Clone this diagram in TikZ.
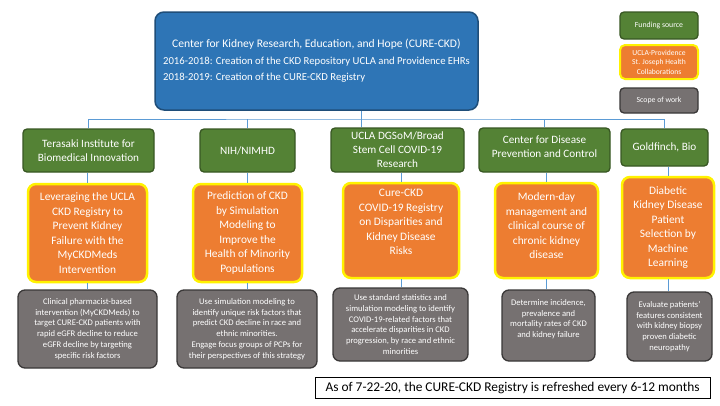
\documentclass[tikz,border=0pt]{standalone}
\usepackage{fontspec}
\setmainfont{Carlito}
\definecolor{hopeblue}{HTML}{2E75B6}
\definecolor{hopeline}{HTML}{1F4E79}
\definecolor{fundgreen}{HTML}{548235}
\definecolor{fundline}{HTML}{385723}
\definecolor{collaborange}{HTML}{ED7D31}
\definecolor{workgray}{HTML}{767171}
\definecolor{workline}{HTML}{3A3838}
\definecolor{linkblue}{HTML}{5B9BD5}

\begin{document}
\begin{tikzpicture}[x=1pt,y=1pt]
		\tikzstyle{every node}+=[inner sep=0pt, text=white, align=center]
		\tikzstyle{hope}=[draw=hopeline, fill=hopeblue, line width=1.5pt, rounded corners=9pt]
		\tikzstyle{fund}=[draw=fundline, fill=fundgreen, line width=1.3pt, rounded corners=4pt, font=\fontsize{11.2}{14}\selectfont]
		\tikzstyle{collab}=[draw=yellow, fill=collaborange, line width=2.5pt, rounded corners=8pt, font=\fontsize{11.4}{14.5}\selectfont]
		\tikzstyle{work}=[draw=workline, fill=workgray, line width=1.3pt, rounded corners=7pt, font=\fontsize{8.6}{10.8}\selectfont]
		\tikzstyle{link}=[draw=linkblue, line width=0.9pt]
		\useasboundingbox (0,0) rectangle (720,-405);
		\fill [white] (0,0) rectangle (720,-405);
		% top box
		\node [hope, minimum width=323pt, minimum height=98pt, align=left, font=\fontsize{10.7}{16.5}\selectfont] (cure) at (316.5,-61) {\hspace*{9pt}{\fontsize{11.6}{16.5}\selectfont Center for Kidney Research, Education, and Hope (CURE-CKD)}\\2016-2018: Creation of the CKD Repository UCLA and Providence EHRs\\2018-2019: Creation of the CURE-CKD Registry};
		% legend
		\node [fund, minimum width=78pt, minimum height=27pt, font=\fontsize{7.8}{9.5}\selectfont] (keyfund) at (659,-25.5) {Funding source};
		\node [collab, minimum width=78pt, minimum height=34pt, line width=2pt, rounded corners=5pt, font=\fontsize{7.6}{9.5}\selectfont] (keycollab) at (659,-62) {UCLA-Providence\\St. Joseph Health\\Collaborations};
		\node [work, minimum width=78pt, minimum height=25pt, rounded corners=4pt, font=\fontsize{7.8}{9.5}\selectfont] (keywork) at (659,-100.5) {Scope of work};
		% funding
		\node [fund, minimum width=131pt, minimum height=43pt] (f1) at (88.5,-150.5) {Terasaki Institute for\\Biomedical Innovation};
		\node [fund, minimum width=95pt, minimum height=43pt] (f2) at (247.5,-150.5) {NIH/NIMHD};
		\node [fund, minimum width=133pt, minimum height=44pt] (f3) at (397.5,-150) {UCLA DGSoM/Broad\\Stem Cell COVID-19\\Research};
		\node [fund, minimum width=131pt, minimum height=44pt] (f4) at (544.5,-150) {Center for Disease\\Prevention and Control\\[-7pt]\mbox{}};
		\node [fund, minimum width=87pt, minimum height=37pt] (f5) at (664.5,-147.5) {Goldfinch, Bio};
		% collaborations
		\node [collab, minimum width=119pt, minimum height=98pt] (o1) at (87.5,-233) {Leveraging the UCLA\\CKD Registry to\\Prevent Kidney\\Failure with the\\MyCKDMeds\\Intervention};
		\node [collab, minimum width=109pt, minimum height=98pt] (o2) at (247.5,-233) {Prediction of CKD\\by Simulation\\Modeling to\\Improve the\\Health of Minority\\Populations};
		\node [collab, minimum width=116pt, minimum height=95pt] (o3) at (401,-230.5) {Cure-CKD\\COVID-19 Registry\\on Disparities and\\Kidney Disease\\Risks\\[2pt]\mbox{}};
		\node [collab, minimum width=103pt, minimum height=95pt] (o4) at (546.5,-230.5) {Modern-day\\management and\\clinical course of\\chronic kidney\\disease\\[-5pt]\mbox{}};
		\node [collab, minimum width=92pt, minimum height=101pt] (o5) at (668,-227.5) {Diabetic\\Kidney Disease\\Patient\\Selection by\\Machine\\Learning};
		% scope of work
		\node [work, minimum width=139pt, minimum height=78pt] (g1) at (87.5,-329) {Clinical pharmacist-based\\intervention (MyCKDMeds) to\\target CURE-CKD patients with\\rapid eGFR decline to reduce\\eGFR decline by targeting\\specific risk factors};
		\node [work, minimum width=140pt, minimum height=78pt] (g2) at (247,-329) {Use simulation modeling to\\identify unique risk factors that\\predict CKD decline in race and\\ethnic minorities.\\Engage focus groups of PCPs for\\their perspectives of this strategy};
		\node [work, minimum width=135pt, minimum height=73pt] (g3) at (400.5,-324.5) {Use standard statistics and\\simulation modeling to identify\\COVID-19-related factors that\\accelerate disparities in CKD\\progression, by race and ethnic\\minorities};
		\node [work, minimum width=93pt, minimum height=71pt] (g4) at (548.5,-325.5) {Determine incidence,\\prevalence and\\mortality rates of CKD\\and kidney failure\\[3pt]\mbox{}};
		\node [work, minimum width=85pt, minimum height=69pt] (g5) at (669.5,-326.5) {Evaluate patients'\\features consistent\\with kidney biopsy\\proven diabetic\\neuropathy};
		% footer
		\node [draw=black, fill=white, text=black, line width=0.8pt, minimum width=395pt, minimum height=21pt, font=\fontsize{13.4}{15}\selectfont] (note) at (512.5,-387.5) {As of 7-22-20, the CURE-CKD Registry is refreshed every 6-12 months};
		% connectors
		\coordinate (bus) at (361,-119);
		\draw [link] (cure.south -| bus) -- (bus |- f3.north);
		\draw [link] (f1.north) |- (bus) -| (f5.north);
		\draw [link] (f2.north) -- (f2.north |- bus);
		\draw [link] (f4.north) -- (f4.north |- bus);
		\foreach \i in {1,...,5} {
			\draw [link] (o\i.north) -- (o\i.north |- f\i.south);
			\draw [link] (o\i.south) -- (o\i.south |- g\i.north);
		}
	\end{tikzpicture}
\end{document}
